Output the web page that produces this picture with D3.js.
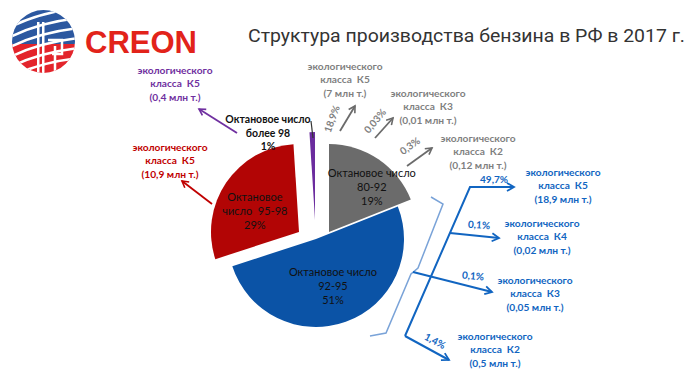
<!DOCTYPE html>
<html>
<head>
<meta charset="utf-8">
<script src="https://cdn.jsdelivr.net/npm/d3@7"></script>
<style>
  body { margin: 0; background: #fff; }
  svg { display: block; }
  text { white-space: pre; }
</style>
</head>
<body>
<div id="chart"></div>
<script>
// доли бензина по октановому числу, %
var grades = ["80-92", "92-95", "95-98", "более 98"];
var shares = [19, 51, 29, 1];
var gradeColors = ["#6b6b6b", "#0b53a6", "#b20505", "#6b2c9e"];

// разбивка по экологическим классам внутри каждой группы
var greyClasses = ["К5", "К3", "К2"];
var greyPct = ["18,9%", "0,03%", "0,3%"];
var greyVol = ["7", "0,01", "0,12"];

var blueClasses = ["К5", "К4", "К3", "К2"];
var bluePct = ["49,7%", "0,1%", "0,1%", "1,4%"];
var blueVol = ["18,9", "0,02", "0,05", "0,5"];

var redClasses = ["К5"];
var redVol = ["10,9"];

var purpleClasses = ["К5"];
var purpleVol = ["0,4"];

var w = 700;
var h = 371;
var cx = 314, cy = 230, radius = 88;
var font = "Lato, 'Open Sans', sans-serif";

// смещения "вырезанных" секторов
var explode = [[15, 2], [2, 9], [-15, 2], [1, -10]];
// [расстояние, поправка угла] для подписей внутри секторов
var labelPlace = [[62, 9.5], [50, 0], [49, -8.5]];

var svg = d3.select("#chart")
            .append("svg")
            .attr("width", w)
            .attr("height", h);

var defs = svg.append("defs");

function marker(id, color) {
  defs.append("marker")
      .attr("id", id)
      .attr("viewBox", "0 0 10 10")
      .attr("refX", 8)
      .attr("refY", 5)
      .attr("markerWidth", 5)
      .attr("markerHeight", 5)
      .attr("markerUnits", "strokeWidth")
      .attr("orient", "auto")
      .append("path")
      .attr("d", "M1,1 L8,5 L1,9")
      .attr("fill", "none")
      .attr("stroke", color)
      .attr("stroke-width", 1.8)
      .attr("stroke-linejoin", "miter");
}
marker("arGrey", "#6b6b6b");
marker("arBlue", "#1165c1");
marker("arRed", "#c00000");
marker("arPurple", "#7030a0");

// ---------- логотип ----------
var logo = svg.append("g");
defs.append("clipPath").attr("id", "logoClip")
    .append("circle").attr("cx", 43.5).attr("cy", 41.5).attr("r", 31.5);
var lg = logo.append("g").attr("clip-path", "url(#logoClip)");
lg.append("rect").attr("x", 10).attr("y", 8).attr("width", 70).attr("height", 36).attr("fill", "#2c58a0");
lg.append("rect").attr("x", 10).attr("y", 44).attr("width", 70).attr("height", 34).attr("fill", "#e3242b");
[18, 28, 38, 48, 58, 68].forEach(function(y) {
  lg.append("path")
    .attr("d", "M8," + (y + 10) + " Q40," + (y - 6) + " 80," + (y - 10))
    .attr("fill", "none")
    .attr("stroke", "#fff")
    .attr("stroke-width", 2.6);
});
lg.append("rect").attr("x", 37).attr("y", 22).attr("width", 2.5).attr("height", 56).attr("fill", "#fff");
lg.append("rect").attr("x", 42).attr("y", 22).attr("width", 2.5).attr("height", 56).attr("fill", "#fff");
lg.append("path")
  .attr("d", "M48,40 L62,40 L62,54 L52,54 M55,46 L55,74")
  .attr("fill", "none").attr("stroke", "#fff").attr("stroke-width", 2.5);

svg.append("text")
   .attr("x", 85)
   .attr("y", 53)
   .attr("font-family", "'Liberation Sans', Arial, sans-serif")
   .attr("font-weight", "bold")
   .attr("font-size", 31)
   .attr("fill", "#e2231a")
   .text("CREON");

// ---------- заголовок ----------
svg.append("text")
   .attr("x", 248)
   .attr("y", 42)
   .attr("font-family", "Roboto, sans-serif")
   .attr("font-size", 18)
   .attr("fill", "#333")
   .attr("textLength", 437)
   .attr("lengthAdjust", "spacingAndGlyphs")
   .text("Структура производства бензина в РФ в 2017 г.");

// ---------- круговая диаграмма ----------
var pie = d3.pie().sort(null).value(function(d) { return d; });
var arc = d3.arc().innerRadius(0).outerRadius(radius);
var arcs = pie(shares);

svg.selectAll("path.slice")
    .data(arcs)
    .enter()
    .append("path")
    .attr("class", "slice")
    .attr("transform", function(d, i) {
        return "translate(" + (cx + explode[i][0]) + "," + (cy + explode[i][1]) + ")";
    })
    .attr("d", arc)
    .attr("fill", function(d, i) { return gradeColors[i]; });

// подписи внутри секторов
arcs.slice(0, 3).forEach(function(d, i) {
  var a = (d.startAngle + d.endAngle) / 2 + labelPlace[i][1] * Math.PI / 180;
  var px = cx + explode[i][0] + labelPlace[i][0] * Math.sin(a);
  var py = cy + explode[i][1] - labelPlace[i][0] * Math.cos(a);
  var lines = i == 2
      ? ["Октановое", "число  " + grades[i], shares[i] + "%"]
      : ["Октановое число", grades[i], shares[i] + "%"];
  var t = svg.append("text")
      .attr("text-anchor", "middle")
      .attr("font-family", font)
      .attr("font-size", 11)
      .attr("fill", "#111");
  lines.forEach(function(s, k) {
    t.append("tspan").attr("x", px).attr("y", py + 4 + (k - 1) * 14).text(s);
  });
});

// подпись самого маленького сектора
var small = svg.append("text")
    .attr("text-anchor", "middle")
    .attr("font-family", font)
    .attr("font-weight", "bold")
    .attr("font-size", 10.5)
    .attr("fill", "#111");
["Октановое число", grades[3], shares[3] + "%"].forEach(function(s, k) {
  small.append("tspan").attr("x", 268).attr("y", 123 + k * 13.5).text(s);
});
svg.append("line")
   .attr("x1", 311).attr("y1", 121).attr("x2", 313).attr("y2", 138)
   .attr("stroke", "#333").attr("stroke-width", 1.2);

// ---------- выноски ----------
function block(x, y, color, cls, vol) {
  var t = svg.append("text")
      .attr("text-anchor", "middle")
      .attr("font-family", font)
      .attr("font-weight", "bold")
      .attr("font-size", 10.2)
      .attr("fill", color);
  ["экологического", "класса  " + cls, "(" + vol + " млн т.)"].forEach(function(s, k) {
    t.append("tspan").attr("x", x).attr("y", y + 3.5 + k * 13.5).text(s);
  });
}

function arrow(pts, color, id, width) {
  svg.append("path")
     .attr("d", d3.line()(pts))
     .attr("fill", "none")
     .attr("stroke", color)
     .attr("stroke-width", width || 1.8)
     .attr("marker-end", "url(#" + id + ")");
}

function pct(x, y, rot, color, s) {
  svg.append("text")
     .attr("transform", "translate(" + x + "," + y + ") rotate(" + rot + ")")
     .attr("text-anchor", "middle")
     .attr("dy", "0.35em")
     .attr("font-family", font)
     .attr("font-weight", "bold")
     .attr("font-size", 10)
     .attr("fill", color)
     .text(s);
}

// фиолетовый и красный
var purpleBox = [[175, 70]];
block(purpleBox[0][0], purpleBox[0][1], "#7030a0", purpleClasses[0], purpleVol[0]);
arrow([[237, 133], [199, 109]], "#7030a0", "arPurple");

var redBox = [[170, 147]];
block(redBox[0][0], redBox[0][1], "#c00000", redClasses[0], redVol[0]);
arrow([[212, 204], [182, 181]], "#c00000", "arRed");

// серый
var greyBox = [[345, 66], [428, 93], [478, 138]];
var greyArrow = [[[340, 131], [355, 106]], [[375, 138], [393, 118]], [[407, 166], [432, 148]]];
var greyPctPos = [[332, 119, -70], [375, 121, -50], [410, 146, -35]];
greyClasses.forEach(function(c, i) {
  block(greyBox[i][0], greyBox[i][1], "#7f7f7f", c, greyVol[i]);
  arrow(greyArrow[i], "#6b6b6b", "arGrey");
  pct(greyPctPos[i][0], greyPctPos[i][1], greyPctPos[i][2], "#7f7f7f", greyPct[i]);
});

// синий: скобка и дерево стрелок
svg.append("path")
   .attr("d", "M431,197 L443,204 L418,268 L411,274 L386,333 L370,336")
   .attr("fill", "none")
   .attr("stroke", "#7aa3d8")
   .attr("stroke-width", 1.5);

var blueBox = [[563, 172], [542, 223], [535, 280], [495, 336]];
var blueArrow = [
  [[405, 336], [470, 187], [514, 187]],
  [[450, 233], [499, 238]],
  [[413, 272], [492, 292]],
  [[405, 336], [449, 360]]
];
var bluePctPos = [[494, 179, 0], [479, 225, 4], [473, 276, 5], [435, 341, 28]];
blueClasses.forEach(function(c, i) {
  block(blueBox[i][0], blueBox[i][1], "#1165c1", c, blueVol[i]);
  arrow(blueArrow[i], "#1165c1", "arBlue", 2);
  pct(bluePctPos[i][0], bluePctPos[i][1], bluePctPos[i][2], "#1165c1", bluePct[i]);
});
</script>
</body>
</html>
